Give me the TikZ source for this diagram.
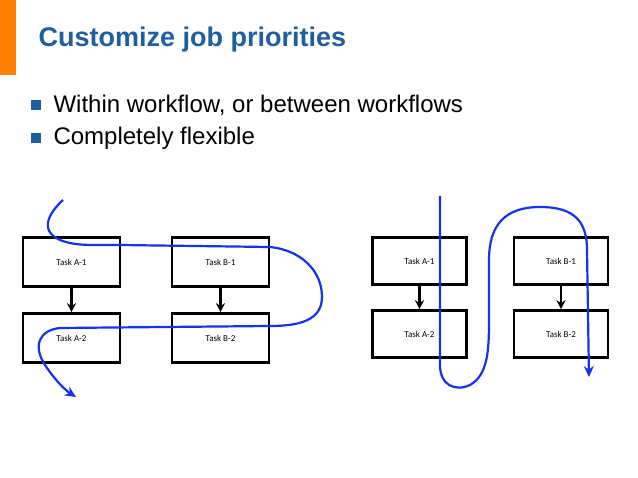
\documentclass[tikz,border=0pt]{standalone}
\usepackage{fontspec}
\setmainfont{Liberation Sans}
\newfontfamily\boxfont{Carlito}
\usetikzlibrary{arrows.meta}
\definecolor{titleblue}{RGB}{31,95,159}
\definecolor{flowblue}{RGB}{20,50,240}
\definecolor{barorange}{RGB}{255,128,0}
\begin{document}
\begin{tikzpicture}[x=1pt,y=-1pt,
  task/.style={draw=black,line width=2.6pt,minimum width=97pt,minimum height=49pt,font=\boxfont\fontsize{9}{10}\selectfont,inner sep=0},
  dep/.style={-{Stealth[length=9pt,width=9pt]},line width=2.2pt},
  flow/.style={draw=flowblue,line width=2.2pt,-{Stealth[length=11pt,width=10pt]}},
  bullet/.style={fill=titleblue,minimum size=10pt,inner sep=0}]
\useasboundingbox (0,0) rectangle (638,478);
\fill[white] (0,0) rectangle (638,478);
\fill[barorange] (0,0) rectangle (16,75);
\node[anchor=west,font=\bfseries\fontsize{27}{30}\selectfont,text=titleblue] (title) at (35,40) {Customize job priorities};
\node[bullet] (b1) at (36,105) {};
\node[bullet] (b2) at (36,138) {};
\node[anchor=west,font=\fontsize{24}{27}\selectfont] (t1) at (50,105) {Within workflow, or between workflows};
\node[anchor=west,font=\fontsize{24}{27}\selectfont] (t2) at (50,138) {Completely flexible};
% left
\node[task] (la1) at (71.5,262) {Task A-1};
\node[task] (lb1) at (220.5,262) {Task B-1};
\node[task] (la2) at (71.5,338) {Task A-2};
\node[task] (lb2) at (220.5,338) {Task B-2};
\draw[dep] (la1) -- (la2);
\draw[dep] (lb1) -- (lb2);
% right
\node[task,minimum width=94pt,minimum height=47pt] (ra1) at (419.5,261) {Task A-1};
\node[task,minimum width=94pt,minimum height=47pt] (rb1) at (561,261) {Task B-1};
\node[task,minimum width=94pt,minimum height=47pt] (ra2) at (419.5,334) {Task A-2};
\node[task,minimum width=94pt,minimum height=47pt] (rb2) at (561,334) {Task B-2};
\draw[dep] (ra1) -- (ra2);
\draw[dep] (rb1) -- (rb2);
\coordinate (ls) at (63,200);
\coordinate (le) at (76,397);
\coordinate (rs) at (440,196);
\coordinate (re) at (589,377);
\draw[flow] (ls) .. controls (50,212) and (38,230) .. (60,240)
  .. controls (75,246) and (90,245) .. (120,245)
  -- (270,247) .. controls (300,250) and (322,270) .. (322,297)
  .. controls (322,320) and (300,326) .. (270,326)
  -- (60,328) .. controls (40,330) and (32,345) .. (45,365)
  .. controls (55,380) and (65,390) .. (le);
\draw[flow] (rs) -- (440,365) .. controls (440,385) and (455,392) .. (470,385)
  .. controls (488,375) and (489,350) .. (489,320)
  -- (489,260) .. controls (489,225) and (505,207) .. (540,207)
  .. controls (575,207) and (587,222) .. (587,250)
  -- (re);
\end{tikzpicture}
\end{document}
